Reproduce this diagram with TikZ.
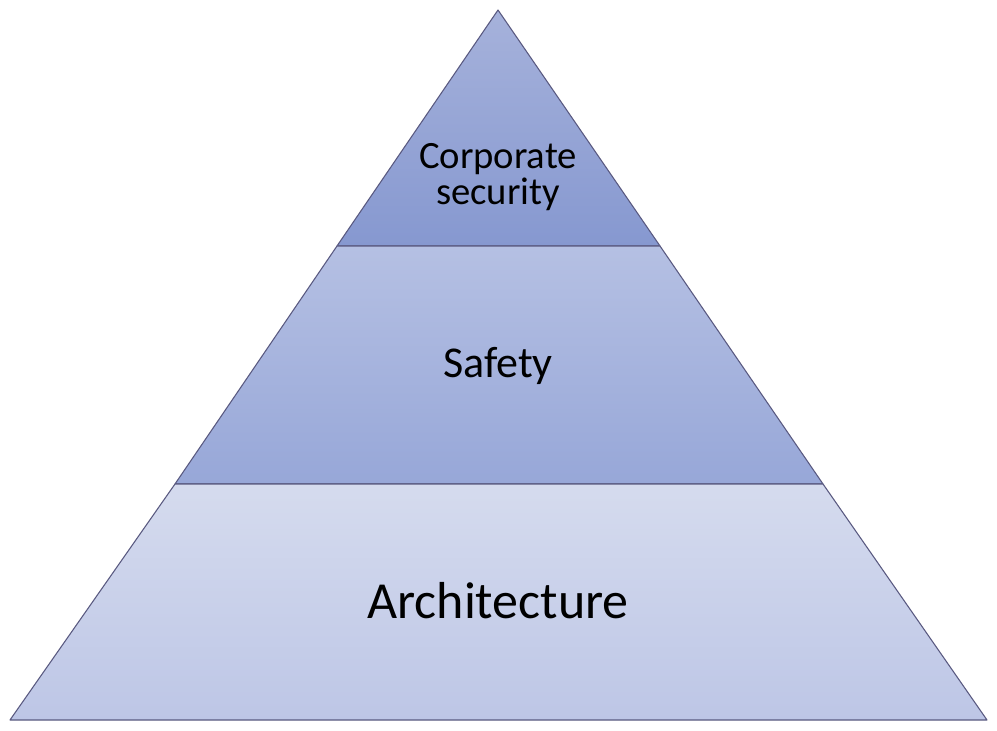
\documentclass[tikz,border=0pt]{standalone}
\usepackage{fontspec}
\setmainfont{Carlito}
\begin{document}
\begin{tikzpicture}[x=0.75pt,y=-0.75pt,
  layer/.style={draw=black!50!blue!30!gray, line width=0.8pt, line join=round},
  lbl/.style={text=black, inner sep=0pt, align=center}]
\useasboundingbox (0,0) rectangle (997,731);
\fill[white] (0,0) rectangle (997,731);
\coordinate (A) at (498,10);
\coordinate (L1) at (337,246); \coordinate (R1) at (660,246);
\coordinate (L2) at (175,484); \coordinate (R2) at (823,484);
\coordinate (L3) at (10,720); \coordinate (R3) at (987,720);
\path[layer, top color=white!30!blue!40!gray!60!white, bottom color=blue!45!gray!70!white,
  top color={rgb,255:red,166;green,178;blue,219}, bottom color={rgb,255:red,134;green,152;blue,208}]
  (A) -- (R1) -- (L1) -- cycle;
\node[lbl, font=\fontsize{29}{29}\selectfont, baseline] (top) at (498,177) {Corporate\\[-2pt]security};
\path[layer, top color={rgb,255:red,181;green,192;blue,227}, bottom color={rgb,255:red,151;green,167;blue,216}]
  (L1) -- (R1) -- (R2) -- (L2) -- cycle;
\node[lbl, font=\fontsize{33}{33}\selectfont] (mid) at (498,366) {Safety};
\path[layer, top color={rgb,255:red,213;green,219;blue,238}, bottom color={rgb,255:red,189;green,198;blue,230}]
  (L2) -- (R2) -- (R3) -- (L3) -- cycle;
\node[lbl, font=\fontsize{39}{39}\selectfont] (bot) at (498,601) {Architecture};
\end{tikzpicture}
\end{document}
